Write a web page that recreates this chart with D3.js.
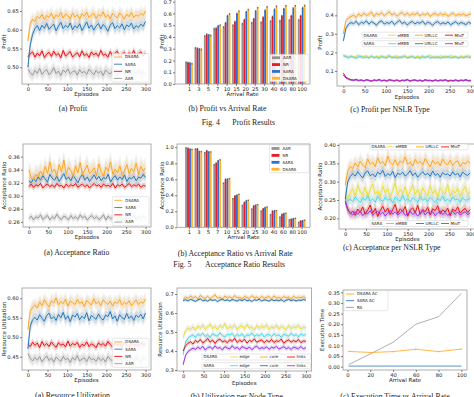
<!DOCTYPE html>
<html>
<head>
<meta charset="utf-8">
<script src="https://cdn.jsdelivr.net/npm/d3@7"></script>
<style>
  body { margin: 0; background: #fff; }
  svg { display: block; }
  .tick text { font-family: 'DejaVu Sans', sans-serif; font-size: 5.2px; fill: #222; }
  .tick line { stroke: #333; stroke-width: 0.6; }
  .lab { font-family: 'DejaVu Sans', sans-serif; font-size: 5.5px; fill: #222; }
  .leg { font-family: 'DejaVu Sans', sans-serif; font-size: 4px; fill: #222; }
  .cap { font-family: 'Liberation Serif', 'Times New Roman', serif; font-size: 7.8px; fill: #222; }
</style>
</head>
<body>
<script>
'use strict'

// ---- Fig 4 (a) profit per episode ----
const profitDSARA = [0.570,0.615,0.628,0.622,0.636,0.630,0.641,0.627,0.638,0.633,0.644,0.629,0.640,0.635,0.646,0.631,0.642,0.637,0.629,0.645,0.634,0.640,0.628,0.643,0.636,0.647,0.632,0.639,0.644,0.630,0.641,0.636,0.648,0.633,0.640,0.629,0.644,0.637,0.631,0.645,0.638,0.628,0.642,0.635,0.646,0.632,0.640,0.636,0.644,0.638,0.650]
const profitSARA = [0.500,0.560,0.588,0.603,0.611,0.598,0.612,0.604,0.617,0.601,0.609,0.615,0.597,0.610,0.620,0.603,0.612,0.606,0.618,0.600,0.611,0.605,0.616,0.598,0.609,0.621,0.604,0.613,0.599,0.610,0.617,0.602,0.614,0.607,0.596,0.612,0.619,0.603,0.611,0.605,0.616,0.600,0.613,0.608,0.618,0.602,0.611,0.606,0.615,0.609,0.622]
const profitNR = [0.528,0.536,0.541,0.527,0.538,0.531,0.544,0.526,0.535,0.540,0.529,0.543,0.532,0.537,0.525,0.545,0.530,0.536,0.542,0.527,0.534,0.539,0.528,0.544,0.531,0.536,0.526,0.541,0.533,0.538,0.529,0.545,0.532,0.535,0.527,0.542,0.530,0.537,0.543,0.528,0.534,0.540,0.526,0.539,0.531,0.545,0.529,0.536,0.541,0.530,0.538]
const profitAAR = [0.495,0.486,0.479,0.492,0.484,0.497,0.481,0.489,0.494,0.480,0.487,0.499,0.483,0.490,0.478,0.493,0.486,0.496,0.482,0.488,0.491,0.479,0.494,0.485,0.489,0.481,0.495,0.487,0.480,0.492,0.484,0.490,0.478,0.493,0.486,0.482,0.491,0.485,0.479,0.489,0.494,0.483,0.488,0.480,0.492,0.486,0.484,0.490,0.481,0.487,0.485]

// ---- Fig 4 (b) / Fig 5 (b) bars per arrival rate ----
const arrivalRates = ['1','3','5','7','10','15','20','25','30','40','60','80','100']
const barProfitAAR = [0.182,0.303,0.405,0.468,0.482,0.497,0.510,0.518,0.522,0.532,0.536,0.540,0.541]
const barProfitNR = [0.180,0.301,0.420,0.472,0.518,0.528,0.545,0.552,0.565,0.572,0.577,0.578,0.578]
const barProfitSARA = [0.176,0.295,0.415,0.492,0.578,0.597,0.612,0.618,0.624,0.632,0.638,0.642,0.646]
const barProfitDSARA = [0.170,0.292,0.410,0.497,0.592,0.616,0.630,0.645,0.652,0.658,0.662,0.662,0.665]
const barAccAAR = [0.990,0.975,0.930,0.780,0.550,0.355,0.270,0.225,0.200,0.155,0.125,0.090,0.060]
const barAccNR = [0.985,0.978,0.955,0.800,0.598,0.390,0.310,0.265,0.230,0.200,0.160,0.100,0.078]
const barAccSARA = [0.975,0.945,0.940,0.830,0.600,0.400,0.330,0.275,0.245,0.205,0.170,0.105,0.080]
const barAccDSARA = [0.970,0.942,0.938,0.840,0.605,0.410,0.335,0.280,0.250,0.205,0.172,0.110,0.085]
const barErr = 0.006

// ---- Fig 4 (c) profit per NSLR type ----
const pDsaraUrllc = [0.300,0.372,0.386,0.394,0.401,0.389,0.408,0.396,0.412,0.399,0.405,0.418,0.393,0.410,0.402,0.415,0.397,0.409,0.420,0.401,0.411,0.395,0.407,0.416,0.400,0.412,0.398,0.409,0.403,0.414,0.396,0.408,0.401,0.413,0.394,0.406,0.411,0.399,0.410,0.402,0.408,0.395,0.405,0.412,0.398,0.406,0.401,0.409,0.397,0.403,0.408]
const pSaraUrllc = [0.262,0.330,0.352,0.361,0.355,0.368,0.349,0.363,0.357,0.371,0.352,0.366,0.358,0.347,0.364,0.370,0.353,0.361,0.356,0.368,0.350,0.362,0.373,0.355,0.364,0.348,0.360,0.367,0.354,0.362,0.357,0.369,0.351,0.363,0.358,0.346,0.361,0.366,0.353,0.360,0.355,0.364,0.349,0.358,0.366,0.352,0.361,0.357,0.350,0.363,0.356]
const pDsaraEmbb = [0.186,0.180,0.175,0.182,0.173,0.179,0.184,0.171,0.177,0.181,0.174,0.183,0.170,0.178,0.176,0.182,0.172,0.179,0.185,0.173,0.177,0.181,0.170,0.178,0.183,0.174,0.176,0.180,0.171,0.179,0.175,0.182,0.172,0.177,0.184,0.173,0.178,0.170,0.181,0.176,0.179,0.172,0.183,0.175,0.177,0.171,0.180,0.174,0.178,0.182,0.176]
const pSaraEmbb = [0.182,0.177,0.171,0.178,0.174,0.169,0.176,0.180,0.172,0.175,0.170,0.178,0.173,0.176,0.168,0.177,0.174,0.171,0.179,0.172,0.175,0.169,0.176,0.173,0.178,0.170,0.174,0.177,0.171,0.175,0.168,0.176,0.173,0.179,0.170,0.174,0.172,0.177,0.169,0.175,0.173,0.178,0.171,0.174,0.176,0.170,0.175,0.172,0.177,0.173,0.174]
const pDsaraMiot = [0.088,0.066,0.058,0.053,0.051,0.055,0.049,0.052,0.047,0.053,0.050,0.046,0.052,0.049,0.054,0.048,0.051,0.047,0.053,0.050,0.048,0.052,0.046,0.051,0.049,0.054,0.047,0.050,0.052,0.048,0.051,0.046,0.053,0.049,0.050,0.047,0.052,0.048,0.051,0.049,0.053,0.046,0.050,0.048,0.052,0.047,0.051,0.049,0.053,0.048,0.050]
const pSaraMiot = [0.078,0.062,0.055,0.051,0.049,0.052,0.047,0.050,0.046,0.051,0.048,0.045,0.050,0.047,0.052,0.046,0.049,0.045,0.051,0.048,0.046,0.050,0.044,0.049,0.047,0.052,0.045,0.048,0.050,0.046,0.049,0.044,0.051,0.047,0.048,0.045,0.050,0.046,0.049,0.047,0.051,0.044,0.048,0.046,0.050,0.045,0.049,0.047,0.051,0.046,0.048]

// ---- Fig 5 (a) acceptance ratio per episode ----
const accDSARA = [0.340,0.328,0.324,0.333,0.329,0.338,0.331,0.345,0.334,0.352,0.336,0.341,0.330,0.348,0.337,0.355,0.333,0.344,0.339,0.329,0.346,0.335,0.351,0.332,0.340,0.347,0.334,0.338,0.343,0.331,0.349,0.336,0.330,0.344,0.338,0.352,0.333,0.341,0.335,0.346,0.331,0.339,0.348,0.334,0.342,0.337,0.350,0.333,0.345,0.338,0.343]
const accSARA = [0.323,0.320,0.326,0.322,0.329,0.324,0.331,0.326,0.321,0.333,0.327,0.324,0.330,0.322,0.328,0.334,0.325,0.329,0.323,0.331,0.326,0.320,0.328,0.333,0.324,0.329,0.322,0.327,0.332,0.325,0.330,0.323,0.328,0.326,0.333,0.321,0.327,0.331,0.324,0.329,0.325,0.332,0.322,0.328,0.326,0.330,0.323,0.329,0.327,0.333,0.328]
const accNR = [0.314,0.318,0.313,0.317,0.315,0.319,0.312,0.316,0.318,0.314,0.317,0.313,0.319,0.315,0.316,0.312,0.318,0.314,0.317,0.315,0.319,0.313,0.316,0.318,0.314,0.317,0.312,0.316,0.319,0.315,0.317,0.313,0.318,0.315,0.316,0.314,0.319,0.312,0.317,0.315,0.318,0.313,0.316,0.319,0.314,0.317,0.315,0.318,0.313,0.316,0.315]
const accAAR = [0.265,0.269,0.263,0.268,0.266,0.271,0.264,0.267,0.270,0.263,0.268,0.265,0.272,0.266,0.264,0.269,0.267,0.263,0.270,0.265,0.268,0.264,0.271,0.266,0.269,0.263,0.267,0.270,0.265,0.268,0.264,0.266,0.271,0.263,0.269,0.265,0.267,0.270,0.264,0.268,0.266,0.262,0.269,0.265,0.267,0.270,0.264,0.268,0.266,0.269,0.265]

// ---- Fig 5 (c) acceptance per NSLR type ----
const aDsaraUrllc = [0.290,0.328,0.342,0.336,0.351,0.340,0.356,0.345,0.338,0.362,0.347,0.353,0.341,0.365,0.349,0.355,0.343,0.370,0.352,0.346,0.360,0.344,0.357,0.350,0.368,0.347,0.354,0.342,0.361,0.349,0.356,0.345,0.363,0.351,0.340,0.358,0.348,0.355,0.343,0.362,0.350,0.346,0.359,0.344,0.353,0.357,0.341,0.352,0.348,0.356,0.350]
const aSaraUrllc = [0.252,0.300,0.314,0.322,0.315,0.327,0.318,0.310,0.324,0.329,0.316,0.321,0.313,0.326,0.320,0.331,0.314,0.322,0.317,0.328,0.311,0.323,0.319,0.326,0.315,0.321,0.330,0.316,0.324,0.312,0.320,0.327,0.318,0.323,0.314,0.329,0.317,0.322,0.312,0.325,0.319,0.321,0.315,0.327,0.318,0.323,0.313,0.326,0.320,0.317,0.324]
const aDsaraEmbb = [0.262,0.255,0.268,0.281,0.259,0.290,0.272,0.264,0.285,0.257,0.278,0.294,0.266,0.275,0.259,0.288,0.270,0.281,0.256,0.276,0.297,0.263,0.279,0.268,0.286,0.258,0.274,0.291,0.265,0.280,0.260,0.283,0.271,0.262,0.289,0.267,0.278,0.257,0.284,0.273,0.266,0.292,0.261,0.277,0.269,0.282,0.259,0.275,0.287,0.264,0.273]
const aSaraEmbb = [0.256,0.248,0.252,0.245,0.258,0.250,0.243,0.256,0.249,0.261,0.247,0.253,0.244,0.259,0.251,0.246,0.257,0.249,0.254,0.242,0.258,0.250,0.247,0.262,0.248,0.253,0.245,0.256,0.251,0.244,0.259,0.249,0.254,0.246,0.257,0.250,0.243,0.255,0.248,0.260,0.247,0.252,0.245,0.258,0.250,0.253,0.244,0.256,0.249,0.251,0.254]
const aDsaraMiot = [0.245,0.226,0.212,0.220,0.208,0.225,0.216,0.231,0.211,0.223,0.236,0.214,0.227,0.205,0.221,0.233,0.217,0.228,0.210,0.224,0.238,0.213,0.226,0.219,0.232,0.206,0.222,0.229,0.215,0.235,0.211,0.224,0.218,0.230,0.209,0.226,0.221,0.234,0.212,0.223,0.217,0.228,0.207,0.225,0.219,0.231,0.214,0.222,0.227,0.216,0.224]
const aSaraMiot = [0.248,0.222,0.214,0.209,0.218,0.211,0.220,0.207,0.216,0.212,0.221,0.208,0.215,0.219,0.210,0.217,0.206,0.214,0.222,0.211,0.218,0.209,0.215,0.220,0.208,0.213,0.219,0.210,0.216,0.206,0.214,0.221,0.209,0.217,0.212,0.218,0.207,0.215,0.220,0.210,0.216,0.208,0.213,0.219,0.211,0.217,0.209,0.214,0.218,0.210,0.215]

// ---- Fig 6 (a) resource utilization ----
const utilDSARA = [0.520,0.566,0.577,0.583,0.575,0.591,0.581,0.596,0.586,0.578,0.594,0.588,0.601,0.583,0.592,0.586,0.598,0.580,0.593,0.589,0.584,0.597,0.587,0.591,0.579,0.595,0.588,0.583,0.599,0.586,0.592,0.581,0.596,0.589,0.584,0.593,0.580,0.591,0.587,0.597,0.583,0.590,0.585,0.594,0.581,0.589,0.596,0.584,0.591,0.587,0.598]
const utilSARA = [0.470,0.528,0.545,0.551,0.544,0.558,0.549,0.541,0.556,0.562,0.547,0.553,0.543,0.559,0.550,0.564,0.546,0.555,0.540,0.557,0.552,0.561,0.545,0.554,0.548,0.563,0.542,0.556,0.551,0.546,0.560,0.549,0.544,0.557,0.553,0.566,0.547,0.555,0.541,0.558,0.550,0.546,0.561,0.548,0.555,0.543,0.557,0.551,0.559,0.547,0.562]
const utilNR = [0.482,0.476,0.487,0.479,0.485,0.473,0.489,0.478,0.484,0.476,0.488,0.480,0.474,0.486,0.479,0.483,0.475,0.490,0.477,0.484,0.480,0.487,0.474,0.482,0.478,0.488,0.476,0.483,0.480,0.473,0.486,0.479,0.484,0.477,0.489,0.481,0.475,0.485,0.478,0.483,0.476,0.487,0.480,0.474,0.486,0.479,0.482,0.477,0.485,0.481,0.483]
const utilAAR = [0.458,0.446,0.439,0.448,0.441,0.450,0.437,0.445,0.452,0.440,0.447,0.436,0.449,0.443,0.438,0.451,0.442,0.446,0.435,0.448,0.441,0.453,0.439,0.444,0.447,0.437,0.450,0.442,0.445,0.438,0.449,0.440,0.446,0.436,0.451,0.443,0.439,0.447,0.441,0.445,0.438,0.449,0.442,0.436,0.446,0.440,0.448,0.443,0.437,0.445,0.441]

// ---- Fig 6 (b) utilization per node type ----
const uDsaraCore = [0.672,0.684,0.676,0.690,0.679,0.686,0.674,0.693,0.681,0.677,0.688,0.675,0.684,0.696,0.678,0.683,0.673,0.689,0.680,0.685,0.676,0.692,0.679,0.682,0.674,0.687,0.681,0.677,0.691,0.680,0.684,0.675,0.688,0.678,0.683,0.686,0.674,0.690,0.679,0.682,0.676,0.687,0.680,0.684,0.673,0.689,0.678,0.683,0.681,0.685,0.679]
const uSaraCore = [0.665,0.670,0.663,0.672,0.667,0.661,0.669,0.674,0.664,0.668,0.662,0.671,0.666,0.670,0.660,0.668,0.673,0.665,0.669,0.663,0.671,0.667,0.662,0.670,0.665,0.672,0.664,0.668,0.661,0.670,0.666,0.673,0.663,0.669,0.667,0.662,0.671,0.665,0.668,0.664,0.670,0.661,0.667,0.672,0.665,0.669,0.663,0.668,0.666,0.671,0.667]
const uDsaraEdge = [0.472,0.508,0.521,0.514,0.527,0.510,0.532,0.519,0.538,0.515,0.526,0.541,0.518,0.530,0.512,0.535,0.522,0.544,0.516,0.529,0.520,0.537,0.513,0.528,0.533,0.517,0.540,0.521,0.525,0.511,0.534,0.519,0.531,0.523,0.539,0.514,0.527,0.520,0.536,0.516,0.530,0.522,0.512,0.533,0.518,0.528,0.524,0.535,0.515,0.526,0.521]
const uSaraEdge = [0.380,0.448,0.468,0.477,0.485,0.472,0.489,0.480,0.494,0.476,0.486,0.471,0.491,0.483,0.478,0.496,0.481,0.474,0.488,0.484,0.493,0.475,0.487,0.480,0.490,0.473,0.485,0.482,0.495,0.477,0.486,0.479,0.492,0.474,0.484,0.488,0.476,0.491,0.481,0.485,0.472,0.489,0.483,0.478,0.494,0.480,0.486,0.475,0.490,0.482,0.487]
const uDsaraLinks = [0.400,0.428,0.441,0.449,0.437,0.455,0.446,0.461,0.443,0.452,0.466,0.447,0.458,0.440,0.456,0.463,0.448,0.454,0.444,0.460,0.451,0.467,0.445,0.457,0.449,0.462,0.442,0.455,0.450,0.464,0.446,0.453,0.459,0.443,0.456,0.448,0.461,0.445,0.454,0.450,0.463,0.441,0.452,0.458,0.447,0.455,0.449,0.460,0.444,0.453,0.451]
const uSaraLinks = [0.328,0.378,0.398,0.407,0.415,0.409,0.420,0.412,0.425,0.405,0.418,0.422,0.410,0.427,0.414,0.419,0.406,0.423,0.416,0.411,0.428,0.413,0.420,0.408,0.424,0.417,0.412,0.421,0.407,0.419,0.426,0.411,0.418,0.414,0.422,0.409,0.420,0.415,0.425,0.410,0.417,0.423,0.412,0.419,0.408,0.421,0.416,0.413,0.424,0.411,0.418]

// ---- Fig 6 (c) execution time ----
const execRates = [1, 20, 40, 60, 80, 100]
const execDSARA = [0.072, 0.067, 0.071, 0.082, 0.071, 0.083]
const execDSARAErr = [0.004, 0.003, 0.004, 0.006, 0.004, 0.005]
const execSARA = [0.003, 0.003, 0.003, 0.003, 0.003, 0.003]
const execRA = [0.010, 0.060, 0.115, 0.200, 0.235, 0.345]

const C = {
  dsara: '#ffa51f', sara: '#2a78b8', nr: '#f01010', aar: '#9a9a9a',
  yellow: '#ece035', cyan: '#45dcef', purple: '#9b34f0',
  barAAR: '#9b8f93', barNR: '#e51d2a', barSARA: '#2f6fd2', barDSARA: '#ffb52a'
}

const svg = d3.select('body').append('svg').attr('width', 474).attr('height', 397)
let clipCount = 0

function makePanel(box, xDom, yDom) {
  const id = 'clip' + (clipCount++)
  svg.append('clipPath').attr('id', id).append('rect')
    .attr('x', box.l).attr('y', box.t).attr('width', box.r - box.l).attr('height', box.b - box.t)
  const g = svg.append('g')
  const plot = g.append('g').attr('clip-path', `url(#${id})`)
  const x = d3.scaleLinear().domain(xDom).range([box.l, box.r])
  const y = d3.scaleLinear().domain(yDom).range([box.b, box.t])
  return {g, plot, x, y, box}
}

function drawFrame(p) {
  p.g.append('rect')
    .attr('x', p.box.l).attr('y', p.box.t)
    .attr('width', p.box.r - p.box.l).attr('height', p.box.b - p.box.t)
    .attr('fill', 'none').attr('stroke', '#9a9a9a').attr('stroke-width', 0.8)
}

function drawAxes(p, o) {
  const ya = p.g.append('g').attr('transform', `translate(${p.box.l},0)`)
    .call(d3.axisLeft(p.y).tickValues(o.yTicks).tickFormat(d3.format(o.yFmt)).tickSize(2).tickPadding(1.2))
  ya.select('.domain').remove()
  const xs = o.xScale || p.x
  const xa = p.g.append('g').attr('transform', `translate(0,${p.box.b})`)
    .call(d3.axisBottom(xs).tickValues(o.xTicks).tickFormat(d => d).tickSize(2).tickPadding(1.2))
  xa.select('.domain').remove()
  p.g.append('text').attr('class', 'lab').attr('text-anchor', 'middle')
    .attr('x', (p.box.l + p.box.r) / 2).attr('y', o.xLabelY).text(o.xLabel)
  p.g.append('text').attr('class', 'lab').attr('text-anchor', 'middle')
    .attr('transform', `translate(${o.yLabelX},${(p.box.t + p.box.b) / 2}) rotate(-90)`)
    .attr('dy', '0.35em').text(o.yLabel)
}

// noisy runs over 0..300 episodes, band first then line
function drawRuns(p, runs) {
  const ep = (vals, i) => p.x(i * 300 / (vals.length - 1))
  runs.forEach(r => {
    p.plot.append('path').datum(r.vals)
      .attr('d', d3.area().x((d, i) => ep(r.vals, i)).y0(d => p.y(d - r.sd)).y1(d => p.y(d + r.sd)))
      .attr('fill', r.color).attr('opacity', 0.2)
    p.plot.append('path').datum(r.vals)
      .attr('d', d3.area().x((d, i) => ep(r.vals, i)).y0(d => p.y(d - r.sd * 1.6)).y1(d => p.y(d + r.sd * 1.6)))
      .attr('fill', '#bbb').attr('opacity', 0.18)
  })
  runs.forEach(r => {
    p.plot.append('path').datum(r.vals)
      .attr('d', d3.line().x((d, i) => ep(r.vals, i)).y(d => p.y(d)))
      .attr('fill', 'none').attr('stroke', r.color).attr('stroke-width', 1)
  })
}

function drawBars(p, xCat, series) {
  const sub = d3.scaleBand().domain(series.map(s => s.name)).range([-4, 4]).padding(0.06)
  series.forEach(s => {
    const g = p.plot.append('g')
    s.vals.forEach((v, i) => {
      const cx = xCat(arrivalRates[i]) + sub(s.name)
      g.append('rect').attr('x', cx).attr('y', p.y(v))
        .attr('width', sub.bandwidth()).attr('height', p.y(0) - p.y(v)).attr('fill', s.color)
      const mx = cx + sub.bandwidth() / 2
      g.append('line').attr('x1', mx).attr('x2', mx)
        .attr('y1', p.y(v - barErr)).attr('y2', p.y(v + barErr)).attr('stroke', '#111').attr('stroke-width', 0.5)
      g.append('line').attr('x1', mx - 0.8).attr('x2', mx + 0.8)
        .attr('y1', p.y(v + barErr)).attr('y2', p.y(v + barErr)).attr('stroke', '#111').attr('stroke-width', 0.5)
    })
  })
}

function legendCol(box, items, patch) {
  const g = svg.append('g')
  g.append('rect').attr('x', box.x).attr('y', box.y).attr('width', box.w).attr('height', box.h)
    .attr('rx', 1).attr('fill', '#fff').attr('fill-opacity', 0.85).attr('stroke', '#cfcfcf').attr('stroke-width', 0.5)
  items.forEach((it, i) => {
    const cy = box.y + box.h * (i + 0.5) / items.length
    if (patch) {
      g.append('rect').attr('x', box.x + 2).attr('y', cy - 1.4).attr('width', 8).attr('height', 2.8).attr('fill', it.color)
    } else {
      g.append('line').attr('x1', box.x + 2).attr('x2', box.x + 10).attr('y1', cy).attr('y2', cy)
        .attr('stroke', it.color).attr('stroke-width', 0.9)
    }
    g.append('text').attr('class', 'leg').attr('x', box.x + 13).attr('y', cy).attr('dy', '0.35em').text(it.name)
  })
}

function legendRow(x0, x1, cy, label, items, hx) {
  const g = svg.append('g')
  g.append('rect').attr('x', x0).attr('y', cy - 3).attr('width', x1 - x0).attr('height', 6)
    .attr('rx', 1).attr('fill', '#fff').attr('fill-opacity', 0.85).attr('stroke', '#cfcfcf').attr('stroke-width', 0.5)
  g.append('text').attr('class', 'leg').attr('x', x0 + 1.5).attr('y', cy).attr('dy', '0.35em').text(label)
  items.forEach((it, i) => {
    g.append('line').attr('x1', hx[i]).attr('x2', hx[i] + 8).attr('y1', cy).attr('y2', cy)
      .attr('stroke', it.color).attr('stroke-width', 0.9)
    g.append('text').attr('class', 'leg').attr('x', hx[i] + 9.5).attr('y', cy).attr('dy', '0.35em').text(it.name)
  })
}

function caption(x, y, txt, anchor) {
  svg.append('text').attr('class', 'cap').attr('x', x).attr('y', y)
    .attr('text-anchor', anchor || 'middle').text(txt)
}

const epTicks = [0, 50, 100, 150, 200, 250, 300]
const epDom = [-15, 314]
const fourNames = [
  {name: 'DSARA', color: C.dsara}, {name: 'SARA', color: C.sara},
  {name: 'NR', color: C.nr}, {name: 'AAR', color: C.aar}
]
const barNames = [
  {name: 'AAR', color: C.barAAR}, {name: 'NR', color: C.barNR},
  {name: 'SARA', color: C.barSARA}, {name: 'DSARA', color: C.barDSARA}
]

// ===== Row 1 : profit =====
const p1a = makePanel({l: 22, r: 151, t: -1, b: 84}, epDom, [0.4555, 0.682])
drawRuns(p1a, [
  {vals: profitAAR, color: C.aar, sd: 0.012},
  {vals: profitNR, color: C.nr, sd: 0.008},
  {vals: profitSARA, color: C.sara, sd: 0.012},
  {vals: profitDSARA, color: C.dsara, sd: 0.012}
])
drawFrame(p1a)
drawAxes(p1a, {yTicks: [0.50, 0.55, 0.60, 0.65], yFmt: '.2f', xTicks: epTicks,
  xLabel: 'Episodes', xLabelY: 96, yLabel: 'Profit', yLabelX: 4})
legendCol({x: 112, y: 53.5, w: 37, h: 28.5}, fourNames)
caption(73, 110.5, '(a) Profit')

const p1b = makePanel({l: 175, r: 310, t: -1, b: 84}, [0, 1], [0, 0.723])
const catX = d3.scalePoint().domain(arrivalRates).range([189, 301.7])
drawBars(p1b, catX, [
  {name: 'AAR', vals: barProfitAAR, color: C.barAAR},
  {name: 'NR', vals: barProfitNR, color: C.barNR},
  {name: 'SARA', vals: barProfitSARA, color: C.barSARA},
  {name: 'DSARA', vals: barProfitDSARA, color: C.barDSARA}
])
drawFrame(p1b)
drawAxes(p1b, {yTicks: d3.range(0, 0.71, 0.1), yFmt: '.1f', xTicks: arrivalRates, xScale: catX,
  xLabel: 'Arrival Rate', xLabelY: 96.3, yLabel: 'Profit', yLabelX: 162.3})
legendCol({x: 270, y: 54.3, w: 39, h: 27.4}, barNames, true)
caption(227.5, 110.8, '(b) Profit vs Arrival Rate')

const p1c = makePanel({l: 337, r: 477, t: -1, b: 86}, epDom, [0.019, 0.488])
drawRuns(p1c, [
  {vals: pDsaraEmbb, color: C.yellow, sd: 0.006},
  {vals: pSaraEmbb, color: C.cyan, sd: 0.006},
  {vals: pDsaraMiot, color: C.nr, sd: 0.004},
  {vals: pSaraMiot, color: C.purple, sd: 0.004},
  {vals: pDsaraUrllc, color: C.dsara, sd: 0.012},
  {vals: pSaraUrllc, color: C.sara, sd: 0.012}
])
drawFrame(p1c)
drawAxes(p1c, {yTicks: [0.1, 0.2, 0.3, 0.4], yFmt: '.1f', xTicks: epTicks,
  xLabel: 'Episodes', xLabelY: 98.5, yLabel: 'Profit', yLabelX: 320})
legendRow(362, 468, 35.2, 'DSARA', [
  {name: 'eMBB', color: C.yellow}, {name: 'URLLC', color: C.dsara}, {name: 'MIoT', color: C.nr}], [388, 415, 445])
legendRow(362, 468, 43.7, 'SARA', [
  {name: 'eMBB', color: C.cyan}, {name: 'URLLC', color: C.sara}, {name: 'MIoT', color: C.purple}], [388, 415, 445])
caption(390, 111.5, '(c) Profit per NSLR Type')

svg.append('text').attr('class', 'cap').attr('x', 201.7).attr('y', 124.5).text('Fig. 4')
svg.append('text').attr('class', 'cap').attr('x', 232.3).attr('y', 124.5).text('Profit Results')

// ===== Row 2 : acceptance =====
const p2a = makePanel({l: 23, r: 151, t: 144, b: 227}, epDom, [0.2523, 0.3794])
drawRuns(p2a, [
  {vals: accAAR, color: C.aar, sd: 0.004},
  {vals: accNR, color: C.nr, sd: 0.004},
  {vals: accSARA, color: C.sara, sd: 0.006},
  {vals: accDSARA, color: C.dsara, sd: 0.01}
])
drawFrame(p2a)
drawAxes(p2a, {yTicks: [0.26, 0.28, 0.30, 0.32, 0.34, 0.36], yFmt: '.2f', xTicks: epTicks,
  xLabel: 'Episodes', xLabelY: 239.3, yLabel: 'Acceptance Ratio', yLabelX: 4})
legendCol({x: 112.3, y: 196.7, w: 36.7, h: 29}, fourNames)
caption(76.7, 255, '(a) Acceptance Ratio')

const p2b = makePanel({l: 177, r: 310, t: 144, b: 227.3}, [0, 1], [0, 1.041])
drawBars(p2b, catX, [
  {name: 'AAR', vals: barAccAAR, color: C.barAAR},
  {name: 'NR', vals: barAccNR, color: C.barNR},
  {name: 'SARA', vals: barAccSARA, color: C.barSARA},
  {name: 'DSARA', vals: barAccDSARA, color: C.barDSARA}
])
drawFrame(p2b)
drawAxes(p2b, {yTicks: [0, 0.2, 0.4, 0.6, 0.8, 1.0], yFmt: '.1f', xTicks: arrivalRates, xScale: catX,
  xLabel: 'Arrival Rate', xLabelY: 239.3, yLabel: 'Acceptance Ratio', yLabelX: 162.3})
legendCol({x: 269.5, y: 145, w: 39.5, h: 27.7}, barNames, true)
caption(235.3, 255.8, '(b) Acceptance Ratio vs Arrival Rate')

const p2c = makePanel({l: 339, r: 476, t: 144, b: 229}, epDom, [0.1708, 0.4027])
drawRuns(p2c, [
  {vals: aDsaraEmbb, color: C.yellow, sd: 0.015},
  {vals: aSaraEmbb, color: C.cyan, sd: 0.01},
  {vals: aDsaraUrllc, color: C.dsara, sd: 0.015},
  {vals: aSaraUrllc, color: C.sara, sd: 0.012},
  {vals: aDsaraMiot, color: C.nr, sd: 0.012},
  {vals: aSaraMiot, color: C.purple, sd: 0.01}
])
drawFrame(p2c)
drawAxes(p2c, {yTicks: [0.20, 0.25, 0.30, 0.35, 0.40], yFmt: '.2f', xTicks: epTicks,
  xLabel: 'Episodes', xLabelY: 240.5, yLabel: 'Acceptance Ratio', yLabelX: 320})
legendRow(370, 468, 146.9, 'DSARA', [
  {name: 'eMBB', color: C.yellow}, {name: 'URLLC', color: C.dsara}, {name: 'MIoT', color: C.nr}], [386, 416, 441])
legendRow(370, 468, 223.5, 'SARA', [
  {name: 'eMBB', color: C.cyan}, {name: 'URLLC', color: C.sara}, {name: 'MIoT', color: C.purple}], [386, 416, 441])
caption(391.7, 250, '(c) Acceptance per NSLR Type')

svg.append('text').attr('class', 'cap').attr('x', 173.3).attr('y', 267).text('Fig. 5')
svg.append('text').attr('class', 'cap').attr('x', 205).attr('y', 267).text('Acceptance Ratio Results')

// ===== Row 3 : utilization / execution time =====
const p3a = makePanel({l: 22, r: 151, t: 288, b: 370}, epDom, [0.4158, 0.6265])
drawRuns(p3a, [
  {vals: utilAAR, color: C.aar, sd: 0.01},
  {vals: utilNR, color: C.nr, sd: 0.008},
  {vals: utilSARA, color: C.sara, sd: 0.012},
  {vals: utilDSARA, color: C.dsara, sd: 0.012}
])
drawFrame(p3a)
drawAxes(p3a, {yTicks: [0.45, 0.50, 0.55, 0.60], yFmt: '.2f', xTicks: epTicks,
  xLabel: 'Episodes', xLabelY: 382, yLabel: 'Resource Utilization', yLabelX: 4})
legendCol({x: 112.3, y: 338.3, w: 36.7, h: 29}, fourNames)
caption(72.5, 398, '(a) Resource Utilization')

const p3b = makePanel({l: 177, r: 311.6, t: 288, b: 371}, epDom, [0.295, 0.7316])
drawRuns(p3b, [
  {vals: uDsaraEdge, color: C.yellow, sd: 0.012},
  {vals: uSaraEdge, color: C.cyan, sd: 0.01},
  {vals: uDsaraLinks, color: C.nr, sd: 0.01},
  {vals: uSaraLinks, color: C.purple, sd: 0.01},
  {vals: uDsaraCore, color: C.dsara, sd: 0.01},
  {vals: uSaraCore, color: C.sara, sd: 0.006}
])
drawFrame(p3b)
drawAxes(p3b, {yTicks: [0.3, 0.4, 0.5, 0.6, 0.7], yFmt: '.1f', xTicks: epTicks,
  xLabel: 'Episodes', xLabelY: 384.5, yLabel: 'Resource Utilization', yLabelX: 160})
legendRow(202, 310.5, 357, 'DSARA', [
  {name: 'edge', color: C.yellow}, {name: 'core', color: C.dsara}, {name: 'links', color: C.nr}], [230, 260, 287])
legendRow(202, 310.5, 365.7, 'SARA', [
  {name: 'edge', color: C.cyan}, {name: 'core', color: C.sara}, {name: 'links', color: C.purple}], [230, 260, 287])
caption(236.7, 398.5, '(b) Utilization per Node Type')

const p3c = makePanel({l: 343, r: 467, t: 290, b: 370}, [-3.95, 104.95], [-0.0155, 0.361])
const lineGen = vals => d3.line().x((d, i) => p3c.x(execRates[i])).y(d => p3c.y(d))(vals)
p3c.plot.append('path').attr('d', lineGen(execRA)).attr('fill', 'none').attr('stroke', C.aar).attr('stroke-width', 0.8)
p3c.plot.append('path').attr('d', lineGen(execSARA)).attr('fill', 'none').attr('stroke', C.sara).attr('stroke-width', 0.8)
p3c.plot.append('path').attr('d', lineGen(execDSARA)).attr('fill', 'none').attr('stroke', C.dsara).attr('stroke-width', 0.8)
execDSARA.forEach((v, i) => {
  p3c.plot.append('line').attr('x1', p3c.x(execRates[i])).attr('x2', p3c.x(execRates[i]))
    .attr('y1', p3c.y(v - execDSARAErr[i])).attr('y2', p3c.y(v + execDSARAErr[i]))
    .attr('stroke', C.dsara).attr('stroke-width', 0.6)
})
drawFrame(p3c)
drawAxes(p3c, {yTicks: [0, 0.05, 0.10, 0.15, 0.20, 0.25, 0.30, 0.35], yFmt: '.2f', xTicks: [0, 20, 40, 60, 80, 100],
  xLabel: 'Arrival Rate', xLabelY: 382, yLabel: 'Execution Time', yLabelX: 321.7})
legendCol({x: 344, y: 290.7, w: 44, h: 20}, [
  {name: 'DSARA AC', color: C.dsara}, {name: 'SARA AC', color: C.sara}, {name: 'RA', color: C.aar}])
caption(395, 398.5, '(c) Execution Time vs Arrival Rate')
</script>
</body>
</html>
